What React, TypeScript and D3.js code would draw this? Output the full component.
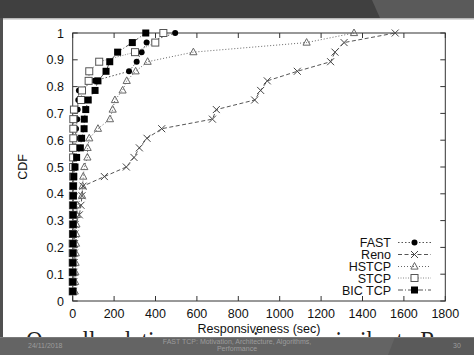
import React from "react";
import * as d3 from "d3";

const cdfLevels = d3.range(1, 29).map((i) => i / 28);

const fastX = [0, 0, 0, 0, 1, 1, 2, 2, 3, 3, 4, 5, 5, 6, 8, 10, 13, 16, 22, 24, 27, 30, 105, 272, 309, 333, 357, 495];
const renoX = [4, 5, 6, 7, 8, 9, 10, 12, 32, 40, 45, 50, 153, 259, 296, 322, 359, 430, 675, 694, 879, 908, 940, 1085, 1246, 1267, 1311, 1558];
const hstcpX = [10, 12, 13, 14, 15, 16, 17, 18, 20, 22, 45, 48, 51, 56, 71, 72, 80, 122, 180, 193, 204, 241, 261, 304, 362, 583, 1130, 1359];
const stcpX = [0, 0, 0, 0, 0, 0, 1, 1, 1, 1, 1, 2, 2, 2, 2, 2, 3, 3, 3, 6, 40, 45, 77, 80, 128, 301, 399, 438];
const bicX = [0, 0, 0, 0, 1, 1, 1, 2, 2, 2, 3, 3, 5, 11, 19, 37, 43, 55, 56, 63, 75, 108, 122, 161, 179, 217, 288, 353];

const seriesNames = ["FAST", "Reno", "HSTCP", "STCP", "BIC TCP"];
const xTicks = [0, 200, 400, 600, 800, 1000, 1200, 1400, 1600, 1800];
const yTicks = [0, 0.1, 0.2, 0.3, 0.4, 0.5, 0.6, 0.7, 0.8, 0.9, 1];

const font = "Liberation Sans, Arial, sans-serif";

type Style = { dash: string; stroke: string; marker: string };
const styles: Style[] = [
  { dash: "1.5,2", stroke: "#555", marker: "circle" },
  { dash: "4,2.5", stroke: "#555", marker: "x" },
  { dash: "1,2", stroke: "#666", marker: "tri" },
  { dash: "1,1.5", stroke: "#888", marker: "osq" },
  { dash: "5,2,1,2", stroke: "#555", marker: "fsq" },
];

function Marker({ type, x, y }: { type: string; x: number; y: number }) {
  if (type === "circle") return <circle cx={x} cy={y} r={3} fill="#000" />;
  if (type === "x")
    return (
      <path
        d={`M${x - 3.5},${y - 3.5}L${x + 3.5},${y + 3.5}M${x - 3.5},${y + 3.5}L${x + 3.5},${y - 3.5}`}
        stroke="#444"
        strokeWidth={1}
      />
    );
  if (type === "tri")
    return (
      <path
        d={`M${x},${y - 4}L${x + 3.6},${y + 2.6}L${x - 3.6},${y + 2.6}Z`}
        stroke="#666"
        strokeWidth={1}
        fill="none"
      />
    );
  if (type === "osq")
    return <rect x={x - 3.5} y={y - 3.5} width={7} height={7} stroke="#555" strokeWidth={1} fill="#fff" />;
  return <rect x={x - 3.5} y={y - 3.5} width={7} height={7} fill="#000" />;
}

export default function App() {
  const x = d3.scaleLinear().domain([0, 1800]).range([72.7, 445.3]);
  const y = d3.scaleLinear().domain([0, 1]).range([301, 33]);
  const data = [fastX, renoX, hstcpX, stcpX, bicX];
  const line = d3
    .line<[number, number]>()
    .x((d) => x(d[0]))
    .y((d) => y(d[1]));

  const legendY = [242.5, 254.5, 266.5, 278, 290];

  return (
    <svg
      width={474}
      height={355}
      style={{ position: "absolute", left: 0, top: 0 }}
      fontFamily={font}
    >
      <rect x={0} y={0} width={474} height={355} fill="#fff" />
      {/* slide body text, mostly hidden behind the footer */}
      <defs>
        <clipPath id="belowChart">
          <rect x={0} y={326} width={474} height={11} />
        </clipPath>
      </defs>
      <text
        x={26}
        y={350}
        fontFamily="Liberation Serif, Times New Roman, serif"
        fontSize={27}
        fill="#222"
        textLength={420}
        lengthAdjust="spacingAndGlyphs"
        clipPath="url(#belowChart)"
      >
        Overall, relative responsiveness similar to Re
      </text>
      {/* header */}
      <rect x={0} y={0} width={474} height={18} fill="#404040" />
      <path d="M372,0L474,0L474,18L380,18Z" fill="#5a5a5a" />
      <rect x={0} y={18} width={474} height={1.5} fill="#b8b8b8" />
      <rect x={0} y={18} width={3} height={320} fill="#505050" />

      {/* plot frame */}
      <rect x={72.7} y={33} width={372.6} height={268} fill="none" stroke="#333" strokeWidth={1} />
      {xTicks.map((t) => (
        <g key={"xt" + t}>
          <line x1={x(t)} x2={x(t)} y1={301} y2={296} stroke="#333" />
          <line x1={x(t)} x2={x(t)} y1={33} y2={38} stroke="#333" />
          <text x={x(t)} y={317.5} fontSize={12.5} textAnchor="middle" fill="#111">
            {t}
          </text>
        </g>
      ))}
      {yTicks.map((t) => (
        <g key={"yt" + t}>
          <line x1={72.7} x2={77.7} y1={y(t)} y2={y(t)} stroke="#333" />
          <line x1={445.3} x2={440.3} y1={y(t)} y2={y(t)} stroke="#333" />
          <text x={64} y={y(t) + 4.5} fontSize={12.5} textAnchor="end" fill="#111">
            {t}
          </text>
        </g>
      ))}
      <text
        transform="translate(27,167) rotate(-90)"
        fontSize={12.5}
        textAnchor="middle"
        fill="#111"
      >
        CDF
      </text>
      <text x={259} y={333} fontSize={12.5} textAnchor="middle" fill="#111">
        Responsiveness (sec)
      </text>

      {/* series */}
      {data.map((xs, si) => {
        const pts: [number, number][] = xs.map((v, i) => [v, cdfLevels[i]]);
        const st = styles[si];
        return (
          <g key={"s" + si}>
            <path d={line(pts) || ""} fill="none" stroke={st.stroke} strokeWidth={1} strokeDasharray={st.dash} />
            {pts.map((p, i) => (
              <Marker key={i} type={st.marker} x={x(p[0])} y={y(p[1])} />
            ))}
          </g>
        );
      })}

      {/* legend */}
      {seriesNames.map((n, i) => (
        <g key={"lg" + n}>
          <text x={391} y={legendY[i] + 4.5} fontSize={12.5} textAnchor="end" fill="#111">
            {n}
          </text>
          <line
            x1={398}
            x2={431}
            y1={legendY[i]}
            y2={legendY[i]}
            stroke={styles[i].stroke}
            strokeDasharray={styles[i].dash}
          />
          <Marker type={styles[i].marker} x={414.5} y={legendY[i]} />
        </g>
      ))}

      {/* footer */}
      <rect x={0} y={337} width={474} height={18} fill="#646464" />
      <path d="M395,337L474,337L474,355L388,355Z" fill="#5a5a5a" />
      <rect x={0} y={337} width={474} height={1} fill="#7a7a7a" />
      <text x={28} y={348} fontSize={7} fill="#9c9c9c">
        24/11/2018
      </text>
      <text x={237} y={344} fontSize={7} fill="#9c9c9c" textAnchor="middle">
        FAST TCP: Motivation, Architecture, Algorithms,
      </text>
      <text x={237} y={351} fontSize={7} fill="#9c9c9c" textAnchor="middle">
        Performance
      </text>
      <text x={457} y={348} fontSize={7} fill="#9c9c9c" textAnchor="middle">
        30
      </text>
    </svg>
  );
}
